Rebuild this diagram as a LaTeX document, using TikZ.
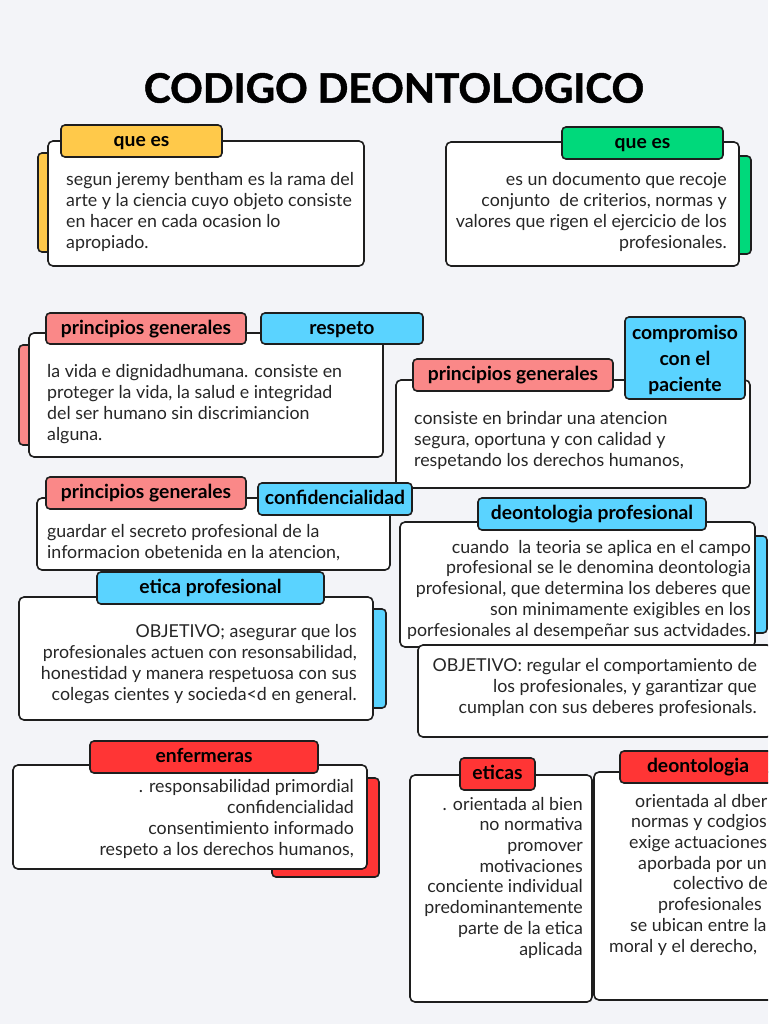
\documentclass[tikz,border=0pt]{standalone}
\usepackage{fontspec}
\setmainfont{Lato}
\newfontfamily\titlefont[BoldFeatures={FakeBold=1.2}]{Lato}
\usetikzlibrary{positioning}

\definecolor{bgpage}{HTML}{F3F4F8}
\definecolor{yellowtab}{HTML}{FFC94A}
\definecolor{greentab}{HTML}{00D97B}
\definecolor{pinktab}{HTML}{FA8888}
\definecolor{bluetab}{HTML}{5AD3FF}
\definecolor{redtab}{HTML}{FF3535}
\definecolor{edge}{HTML}{1E1E1E}

\newcommand{\bodyfont}{\fontsize{17.8}{20.7}\selectfont}
\newcommand{\tabfont}{\fontsize{19.3}{26}\selectfont\bfseries}

\begin{document}
\begin{tikzpicture}[x=1pt, y=-1pt,
  card/.style={draw=edge, line width=1.6pt, fill=white, rounded corners=5pt, inner sep=0pt},
  back/.style={draw=edge, line width=1.6pt, rounded corners=4pt, inner sep=0pt},
  tab/.style={draw=edge, line width=1.6pt, rounded corners=4pt, font=\tabfont,
              align=center, inner sep=0pt},
  tabline/.style={tab, text height=15pt, text depth=4pt},
  txt/.style={font=\bodyfont, inner sep=0pt, text=black!85}
]
\path[use as bounding box, fill=bgpage] (0,0) rectangle (768,1024);
\clip (0,0) rectangle (768,1024);

% title
\node[font=\titlefont\fontsize{40.5}{40.5}\selectfont\bfseries] (title) at (394,88) {CODIGO DEONTOLOGICO};

% back tabs
\node[back, fill=yellowtab, minimum width=42pt, minimum height=99pt] (b1) at (59,202.5) {};
\node[back, fill=greentab, minimum width=51pt, minimum height=98pt] (b2) at (725.5,205) {};
\node[back, fill=pinktab, minimum width=41pt, minimum height=100pt] (b3) at (39.5,395) {};
\node[back, fill=bluetab, minimum width=46pt, minimum height=99pt] (b6) at (363,658.5) {};
\node[back, fill=bluetab, minimum width=47pt, minimum height=97pt] (b7) at (743.5,584.5) {};
\node[back, fill=redtab, minimum width=107pt, minimum height=99pt] (b9) at (325.5,827.5) {};

% cards
\node[card, minimum width=316pt, minimum height=125pt] (c1) at (206,203.5) {};
\node[card, minimum width=293pt, minimum height=124pt] (c2) at (592.5,204) {};
\node[card, minimum width=354pt, minimum height=124pt] (c3) at (206,395) {};
\node[card, minimum width=354pt, minimum height=108pt] (c4) at (573,434) {};
\node[card, minimum width=353pt, minimum height=72pt] (c5) at (213.5,534) {};
\node[card, minimum width=354pt, minimum height=123pt] (c6) at (196,658.5) {};
\node[card, minimum width=355pt, minimum height=125pt] (c7) at (577.5,584.5) {};
\node[card, minimum width=354pt, minimum height=92pt] (c8) at (595,691) {};
\node[card, minimum width=354pt, minimum height=104pt] (c9) at (190,817) {};
\node[card, minimum width=182pt, minimum height=227pt] (c10) at (501,888.5) {};
\node[card, minimum width=182pt, minimum height=228pt] (c11) at (685,886) {};

% labels
\node[tabline, fill=yellowtab, minimum width=161pt, minimum height=32pt] (t1) at (141.5,141) {que es};
\node[tabline, fill=greentab, minimum width=161pt, minimum height=32pt] (t2) at (642.5,143) {que es};
\node[tabline, fill=pinktab, minimum width=200pt, minimum height=31pt] (t3) at (146,328.5) {principios generales};
\node[tabline, fill=bluetab, minimum width=162pt, minimum height=31pt] (t3b) at (342,328.5) {respeto};
\node[tabline, fill=pinktab, minimum width=200pt, minimum height=32pt] (t4) at (513,375) {principios generales};
\node[tab, fill=bluetab, minimum width=120pt, minimum height=82pt] (t4b) at (685,358) {};
\node[tab, draw=none, anchor=north] (t4btext) at (685,324.5) {compromiso\\con el\\paciente};
\node[tabline, fill=pinktab, minimum width=200pt, minimum height=32pt] (t5) at (146,493) {principios generales};
\node[tabline, fill=bluetab, minimum width=154pt, minimum height=32pt] (t5b) at (335,499) {confidencialidad};
\node[tabline, fill=bluetab, minimum width=227pt, minimum height=32pt] (t6) at (210.5,588) {etica profesional};
\node[tabline, fill=bluetab, minimum width=228pt, minimum height=32pt] (t7) at (592,514) {deontologia profesional};
\node[tabline, fill=redtab, minimum width=228pt, minimum height=32pt] (t9) at (204,757) {enfermeras};
\node[tabline, fill=redtab, minimum width=75pt, minimum height=32pt] (t10) at (497.5,774) {eticas};
\node[tabline, fill=redtab, minimum width=156pt, minimum height=32pt] (t11) at (698,767) {deontologia};

% texts (anchored at the baseline of their last line)
\node[txt, align=left, anchor=base west] (x1) at (66,248)
  {segun jeremy bentham es la rama del\\arte y la ciencia cuyo objeto consiste\\en hacer en cada ocasion lo\\apropiado.};
\node[txt, align=right, anchor=base east] (x2) at (727,248)
  {es un documento que recoje\\conjunto~ de criterios, normas y\\valores que rigen el ejercicio de los\\profesionales.};
\node[txt, align=left, anchor=base west] (x3) at (47,440)
  {la vida e dignidadhumana. consiste en\\proteger la vida, la salud e integridad\\del ser humano sin discrimiancion\\alguna.};
\node[txt, align=left, anchor=base west] (x4) at (414,466)
  {consiste en brindar una atencion\\segura, oportuna y con calidad y\\respetando los derechos humanos,};
\node[txt, align=left, anchor=base west] (x5) at (47,558)
  {guardar el secreto profesional de la\\informacion obetenida en la atencion,};
\node[txt, align=right, anchor=base east] (x6) at (357,700)
  {OBJETIVO; asegurar que los\\profesionales actuen con resonsabilidad,\\honestidad y manera respetuosa con sus\\colegas cientes y socieda<d en general.};
\node[txt, align=right, anchor=base east] (x7) at (751,636)
  {cuando~ la teoria se aplica en el campo\\profesional se le denomina deontologia\\profesional, que determina los deberes que\\son minimamente exigibles en los\\porfesionales al desempeñar sus actvidades.};
\node[txt, align=right, anchor=base east] (x8) at (757,713)
  {OBJETIVO: regular el comportamiento de\\los profesionales, y garantizar que\\cumplan con sus deberes profesionals.};
\node[txt, align=right, anchor=base east] (x9) at (354,855)
  {. responsabilidad primordial\\confidencialidad\\consentimiento informado\\respeto a los derechos humanos,};
\node[txt, align=right, anchor=base east] (x10) at (583,955)
  {. orientada al bien\\no normativa\\promover\\motivaciones\\conciente individual\\predominantemente\\parte de la etica\\aplicada};
\node[txt, align=left, anchor=base west] (x11) at (609,952)
  {\hspace*{26pt}orientada al dber\\\hspace*{22pt}normas y codgios\\\hspace*{20pt}exige actuaciones\\\hspace*{29pt}aporbada por un\\\hspace*{64pt}colectivo de\\\hspace*{49pt}profesionales\\\hspace*{21pt}se ubican entre la\\moral y el derecho,};
\end{tikzpicture}
\end{document}
